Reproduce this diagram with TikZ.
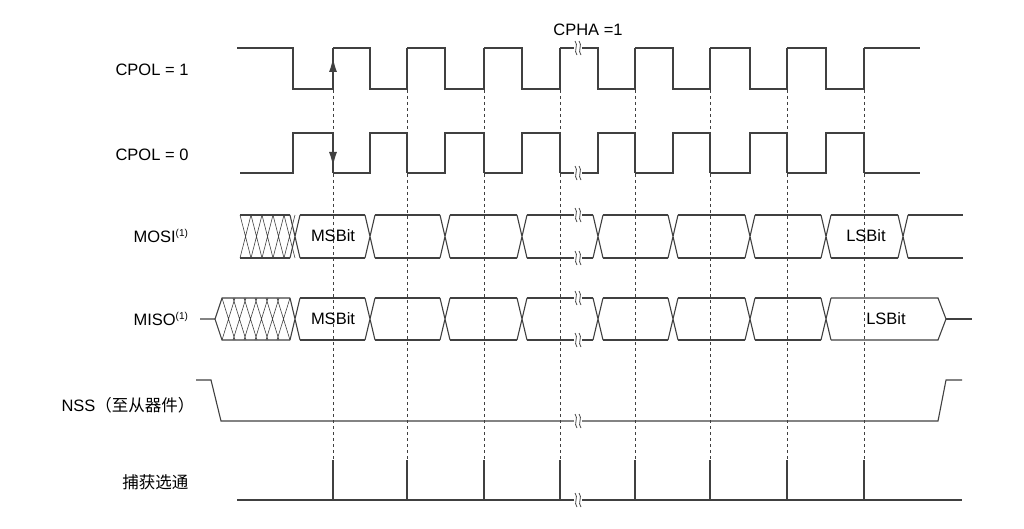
\documentclass[tikz,border=0pt]{standalone}
\usepackage{fontspec}
\setmainfont{Liberation Sans}
\newfontfamily\cjk{Noto Sans CJK SC}
\usetikzlibrary{arrows.meta}
\begin{document}
\begin{tikzpicture}[x=1pt,y=-1pt,font=\fontsize{16.5}{19}\selectfont,
  sig/.style={line width=1.1pt,draw=black!75},
  guide/.style={dashed,line width=0.8pt,draw=black!75},
  brk/.style={line width=0.8pt,draw=black!70}]
\useasboundingbox (0,0) rectangle (1024,529);
% labels
\node[anchor=east] (l1) at (192,70) {CPOL = 1};
\node[anchor=east] (l0) at (192,155) {CPOL = 0};
\node[anchor=east] (lmosi) at (192,236) {MOSI\textsuperscript{\fontsize{10}{12}\selectfont(1)}};
\node[anchor=east] (lmiso) at (192,319) {MISO\textsuperscript{\fontsize{10}{12}\selectfont(1)}};
\node[anchor=east] (lnss) at (198,405) {NSS{\cjk（至从器件）}};
\node[anchor=east] (lcap) at (192,482) {\cjk 捕获选通};
\node (cpha) at (588,30) {CPHA =1};
% guides
\foreach \x in {333,407,484,560,635,710,787,864}
  \draw[guide] (\x,48) -- (\x,470);
% CPOL=1
\draw[sig] (237,48) -- (293,48) -- (293,89) -- (333,89) -- (333,48);
\foreach \r/\f/\n in {333/370/407,407/445/484,484/522/560,560/598/635,635/673/710,710/750/787,787/826/864}
  \draw[sig] (\r,48) -- (\f,48) -- (\f,89) -- (\n,89) -- (\n,48);
\draw[sig] (864,48) -- (920,48);
% CPOL=0
\draw[sig] (240,173) -- (293,173) -- (293,133) -- (333,133) -- (333,173);
\foreach \r/\f/\n in {333/370/407,407/445/484,484/522/560,560/598/635,635/673/710,710/750/787,787/826/864}
  \draw[sig] (\r,173) -- (\f,173) -- (\f,133) -- (\n,133) -- (\n,173);
\draw[sig] (864,173) -- (920,173);
% arrows
\draw[sig,-{Latex[length=14pt,width=8pt]}] (333,89) -- (333,58);
\draw[sig,-{Latex[length=14pt,width=8pt]}] (333,133) -- (333,166);
% MOSI bus
\foreach \a/\b in {295/370,370/445,445/522,522/598,598/673,673/750,750/826,826/903}{
  \draw[sig] (\a+5,215) -- (\b-5,215) (\a+5,258) -- (\b-5,258);
  \draw[sig] (\b-5,215) -- (\b+5,258) (\b-5,258) -- (\b+5,215);}
\draw[sig] (908,215) -- (963,215) (908,258) -- (963,258);
\draw[sig] (240,215) -- (290,215) (240,258) -- (290,258);
\draw[sig] (290,215) -- (300,258) (290,258) -- (300,215);
\foreach \x in {240,251,262,273,284}
  \draw[sig,line width=0.6pt] (\x,215) -- (\x+11,258) (\x,258) -- (\x+11,215);
% MISO bus
\foreach \a/\b in {295/370,370/445,445/522,522/598,598/673,673/750,750/826}{
  \draw[sig] (\a+5,298) -- (\b-5,298) (\a+5,340) -- (\b-5,340);
  \draw[sig] (\b-5,298) -- (\b+5,340) (\b-5,340) -- (\b+5,298);}
\draw[sig] (831,298) -- (938,298) -- (946,319) -- (938,340) -- (831,340);
\draw[sig] (946,319) -- (972,319);
\draw[sig] (200,319) -- (215,319) -- (222,298) -- (290,298) (215,319) -- (222,340) -- (290,340);
\draw[sig] (290,298) -- (300,340) (290,340) -- (300,298);
\foreach \x in {222,233,244,255,266,277}
  \draw[sig,line width=0.6pt] (\x,298) -- (\x+13,340) (\x,340) -- (\x+13,298);
\node (msb1) at (333,236) {MSBit};
\node (msb2) at (333,319) {MSBit};
\node (lsb1) at (866,236) {LSBit};
\node (lsb2) at (886,319) {LSBit};
% NSS
\draw[sig] (196,380) -- (211,380) -- (221,421) -- (938,421) -- (946,380) -- (962,380);
% capture strobe
\draw[sig] (237,500) -- (962,500);
\foreach \x in {333,407,484,560,635,710,787,864}
  \draw[sig] (\x,460) -- (\x,500);
% break marks
\foreach \y in {48,173,215,258,298,340,421,500}{
  \fill[white] (574,\y-5) rectangle (582,\y+5);
  \draw[brk] (575,\y-7) .. controls (579,\y-3) and (573,\y+3) .. (577,\y+7);
  \draw[brk] (579,\y-7) .. controls (583,\y-3) and (577,\y+3) .. (581,\y+7);}
\end{tikzpicture}
\end{document}
